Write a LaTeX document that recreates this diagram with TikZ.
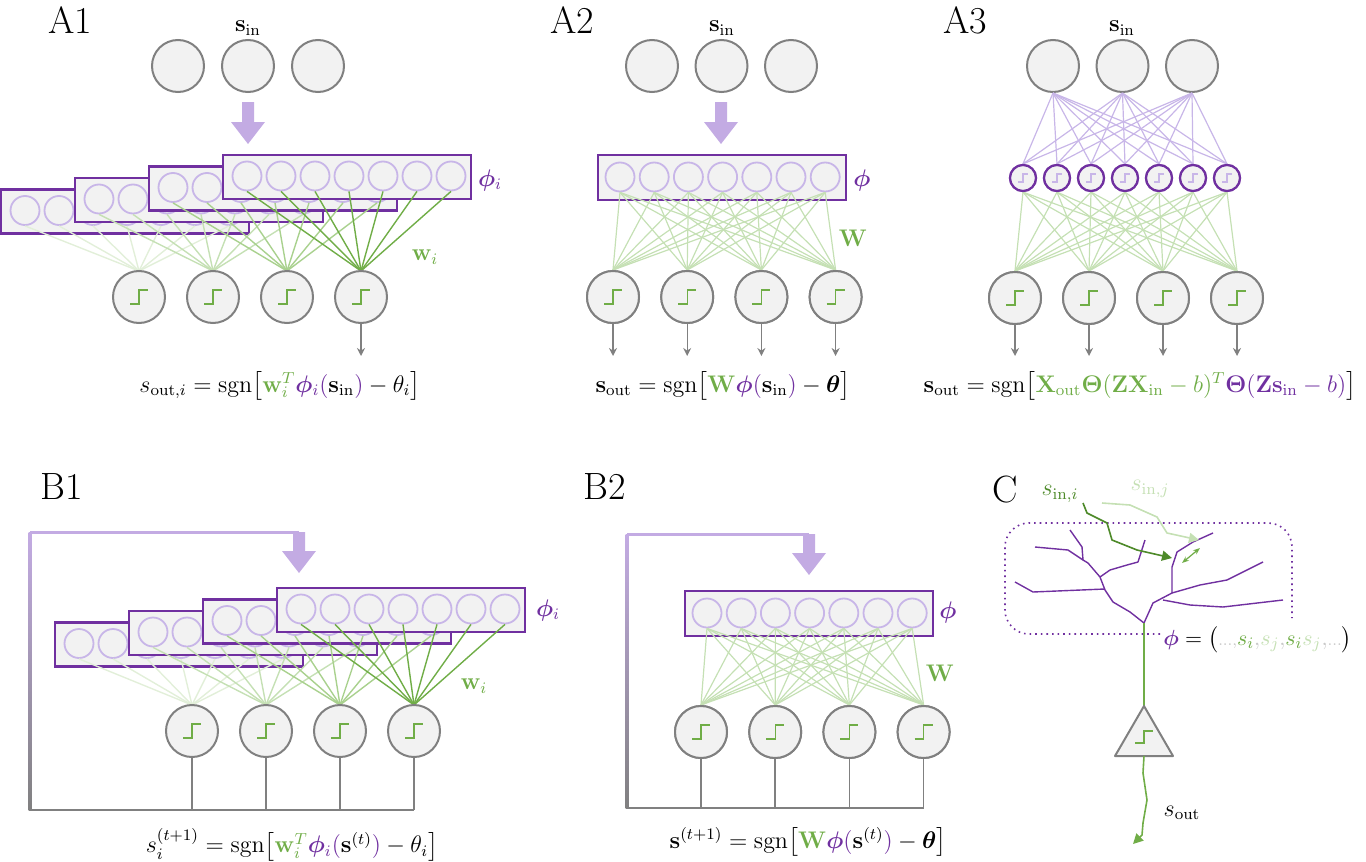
\documentclass[tikz,border=0pt]{standalone}
\usepackage{amsmath,bm}
\usetikzlibrary{arrows.meta}
\definecolor{grayc}{HTML}{808080}
\definecolor{fillc}{HTML}{F2F2F2}
\definecolor{purp}{HTML}{7030A0}
\definecolor{lav}{HTML}{C3ABE3}
\definecolor{lavc}{HTML}{C8B6E8}
\definecolor{grn}{HTML}{70AD47}
\definecolor{dgrn}{HTML}{4E8A2A}
\definecolor{gA}{HTML}{E2EFD9}
\definecolor{gB}{HTML}{C5E0B4}
\definecolor{gC}{HTML}{A9D18E}
\definecolor{gD}{HTML}{70AD47}
\definecolor{lgray}{HTML}{C8C8C8}
\tikzset{
  inn/.style={circle,draw=grayc,fill=fillc,line width=1pt,minimum size=26pt,inner sep=0},
  outn/.style={circle,draw=grayc,fill=fillc,line width=1pt,minimum size=26pt,inner sep=0},
  phic/.style={circle,draw=lavc,line width=0.9pt,minimum size=14.5pt,inner sep=0},
  hid/.style={circle,draw=purp,fill=fillc,line width=1.1pt,minimum size=13pt,inner sep=0},
  box/.style={draw=purp,fill=fillc,line width=1.1pt},
  step/.pic={\draw[grn,line width=0.7pt] (-4.5pt,-3.5pt)--(0,-3.5pt)--(0,3.5pt)--(4.5pt,3.5pt);},
  hstep/.pic={\draw[lavc,line width=0.6pt] (-2.5pt,-2pt)--(0,-2pt)--(0,2pt)--(2.5pt,2pt);},
  outarr/.style={-{Stealth[length=4pt,width=4pt]},grayc,line width=0.7pt},
  bus/.style={grayc,line width=0.8pt},
  lbl/.style={font=\fontsize{19}{19}\selectfont},
  eq/.style={font=\fontsize{12}{14}\selectfont},
  dend/.style={purp,line width=0.7pt,line join=round},
}
\newcommand\blockarr[3]{\fill[lav] (#1-6,#2)--(#1+6,#2)--(#1+6,#3-22)--(#1+17,#3-22)--(#1,#3)--(#1-17,#3-22)--(#1-6,#3-22)--cycle;}
\newcommand\stackpanel[5]{
  \foreach \k/\c in {3/gA,2/gB,1/gC,0/gD}{
    \pgfmathsetmacro\bx{#2-74*\k}\pgfmathsetmacro\by{#3+11.5*\k}
    \draw[box] (\bx,\by) rectangle ++(248,44);
    \foreach \j in {0,...,6}{\node[phic] (#1p\k\j) at (\bx+24+34*\j,\by+21) {};}
    \pgfmathsetmacro\nx{#4+74*(3-\k)}
    \coordinate (#1t\k) at (\nx,#5-26);
    \foreach \j in {0,...,6}{\draw[\c,line width=0.7pt] (#1p\k\j.south)--(#1t\k);}
  }
  \foreach \k in {0,...,3}{\node[outn] (#1n\k) at (#4+74*\k,#5) {}; \pic at (#1n\k) {step};}
}
\newcommand\flatpanel[5]{
  \draw[box] (#2,#3) rectangle ++(248,45);
  \foreach \j in {0,...,6}{\node[phic] (#1p\j) at (#2+22+34.2*\j,#3+22) {};}
  \foreach \k in {0,...,3}{\node[outn] (#1n\k) at (#4+74.2*\k,#5) {};}
  \foreach \j in {0,...,6}{\foreach \k in {0,...,3}{\draw[gB,line width=0.6pt] (#1p\j.south)--(#1n\k.north);}}
  \foreach \k in {0,...,3}{\node[outn] at (#1n\k) {}; \pic at (#1n\k) {step};}
}
\begin{document}
\begin{tikzpicture}[x=0.5pt,y=-0.5pt]
\useasboundingbox (0,0) rectangle (1366,862);
% ---------------- A1
\node[lbl] at (70,20) {A1};
\foreach \i in {0,1,2}{\node[inn] (a1i\i) at (178+70*\i,66) {};}
\node[eq] at (248,28) {$\mathbf{s}_{\mathrm{in}}$};
\blockarr{248}{102}{144}
\stackpanel{a1}{223}{155}{139}{297}
\node[eq,text=purp] at (490,180) {$\bm{\phi}_i$};
\node[eq,text=grn] at (425,257) {$\mathbf{w}_i$};
\coordinate (a1o) at (361,356);
\draw[outarr] (a1n3.south)--(a1o);
\node[eq] at (280,386) {$s_{\mathrm{out},i}=\mathrm{sgn}\big[\textcolor{grn}{\mathbf{w}_i^T}\textcolor{purp}{\bm\phi_i(}\mathbf{s}_{\mathrm{in}}\textcolor{purp}{)}-\theta_i\big]$};
% ---------------- A2
\node[lbl] at (572,20) {A2};
\foreach \i in {0,1,2}{\node[inn] (a2i\i) at (652+69.5*\i,66) {};}
\node[eq] at (722,28) {$\mathbf{s}_{\mathrm{in}}$};
\blockarr{721}{102}{144}
\flatpanel{a2}{598}{155}{613}{297}
\node[eq,text=purp] at (862,180) {$\bm{\phi}$};
\node[eq,text=grn] at (853,238) {$\mathbf{W}$};
\foreach \k in {0,...,3}{\coordinate (a2o\k) at (613+74.2*\k,356); \draw[outarr] (a2n\k.south)--(a2o\k);}
\node[eq] at (723,386) {$\mathbf{s}_{\mathrm{out}}=\mathrm{sgn}\big[\textcolor{grn}{\mathbf{W}}\textcolor{purp}{\bm\phi(}\mathbf{s}_{\mathrm{in}}\textcolor{purp}{)}-\bm\theta\big]$};
% ---------------- A3
\node[lbl] at (965,20) {A3};
\foreach \i in {0,1,2}{\node[inn] (a3i\i) at (1053+69.5*\i,66) {};}
\node[eq] at (1122,28) {$\mathbf{s}_{\mathrm{in}}$};
\foreach \j in {0,...,6}{\node[hid] (a3h\j) at (1023+34*\j,178) {};}
\foreach \k in {0,...,3}{\node[outn] (a3n\k) at (1015+74*\k,298) {};}
\foreach \i in {0,1,2}{\foreach \j in {0,...,6}{\draw[lavc,line width=0.6pt] (a3i\i.south)--(a3h\j.north);}}
\foreach \j in {0,...,6}{\foreach \k in {0,...,3}{\draw[gB,line width=0.6pt] (a3h\j.south)--(a3n\k.north);}}
\foreach \j in {0,...,6}{\node[hid] at (a3h\j) {}; \pic at (a3h\j) {hstep};}
\foreach \k in {0,...,3}{\node[outn] at (a3n\k) {}; \pic at (a3n\k) {step}; \coordinate (a3o\k) at (1015+74*\k,356); \draw[outarr] (a3n\k.south)--(a3o\k);}
\node[eq] at (1140,386) {$\mathbf{s}_{\mathrm{out}}=\mathrm{sgn}\big[\textcolor{grn}{\mathbf{X}_{\mathrm{out}}\bm\Theta(\mathbf{Z}\mathbf{X}_{\mathrm{in}}-b)^T}\textcolor{purp}{\bm\Theta(\mathbf{Z}\mathbf{s}_{\mathrm{in}}-b)}\big]$};
% ---------------- B1
\node[lbl] at (62,487) {B1};
\coordinate (b1c1) at (30,810);
\coordinate (b1c2) at (30,532);
\coordinate (b1c3) at (299,532);
\shade[top color=lav,bottom color=grayc] (28.5,532) rectangle (31.5,810);
\draw[lav,line width=1.5pt] (b1c2)--(b1c3);
\blockarr{299}{532}{573}
\stackpanel{b1}{277}{588}{192}{731}
\foreach \k in {0,...,3}{\coordinate (b1b\k) at (192+74*\k,810); \draw[bus] (b1n\k.south)--(b1b\k);}
\draw[bus] (b1c1)--(b1b3);
\node[eq,text=purp] at (548,610) {$\bm{\phi}_i$};
\node[eq,text=grn] at (474,686) {$\mathbf{w}_i$};
\node[eq] at (292,845) {$s_i^{(t+1)}=\mathrm{sgn}\big[\textcolor{grn}{\mathbf{w}_i^T}\textcolor{purp}{\bm\phi_i(}\mathbf{s}^{(t)}\textcolor{purp}{)}-\theta_i\big]$};
% ---------------- B2
\node[lbl] at (605,487) {B2};
\coordinate (b2c1) at (627,808);
\coordinate (b2c2) at (627,534);
\coordinate (b2c3) at (809,534);
\shade[top color=lav,bottom color=grayc] (625.5,534) rectangle (628.5,808);
\draw[lav,line width=1.5pt] (b2c2)--(b2c3);
\blockarr{809}{534}{575}
\flatpanel{b2}{685}{591}{701}{732}
\foreach \k in {0,...,3}{\coordinate (b2b\k) at (701+74.2*\k,808); \draw[bus] (b2n\k.south)--(b2b\k);}
\draw[bus] (b2c1)--(b2b3);
\node[eq,text=purp] at (948,612) {$\bm{\phi}$};
\node[eq,text=grn] at (940,673) {$\mathbf{W}$};
\node[eq] at (808,842) {$\mathbf{s}^{(t+1)}=\mathrm{sgn}\big[\textcolor{grn}{\mathbf{W}}\textcolor{purp}{\bm\phi(}\mathbf{s}^{(t)}\textcolor{purp}{)}-\bm\theta\big]$};
% ---------------- C
\node[lbl] at (1005,490) {C};
\draw[purp,line width=0.8pt,dotted,rounded corners=12] (1160,634)--(1005,634)--(1005,523)--(1292,523)--(1292,618);
\draw[dend] (1144,623)--(1130,612)--(1113,602)--(1105,590)--(1100,577)--(1088,563)--(1083,560)--(1068,550)--(1035,547);
\draw[dend] (1083,560)--(1082,547)--(1070,530);
\draw[dend] (1100,577)--(1110,570)--(1127,565)--(1138,562)--(1145,540);
\draw[dend] (1015,582)--(1033,592)--(1105,589);
\draw[dend] (1144,623)--(1153,603)--(1172,593)--(1200,585)--(1227,580)--(1263,562);
\draw[dend] (1163,600)--(1190,605)--(1223,607)--(1283,600);
\draw[dend] (1172,593)--(1172,567)--(1177,552)--(1193,542)--(1213,533);
\draw[dgrn,line width=0.8pt,line join=round,-{Triangle[length=5pt,width=5pt]}] (1083,503)--(1087,513)--(1107,523)--(1112,540)--(1137,550)--(1172,558);
\draw[gB,line width=0.8pt,line join=round,-{Triangle[length=5pt,width=5pt]}] (1102,503)--(1130,505)--(1157,517)--(1167,533)--(1199,540);
\draw[grn,line width=0.6pt,{Stealth[length=3.5pt]}-{Stealth[length=3.5pt]}] (1182,563)--(1200,548);
\node[eq,text=dgrn] at (1060,494) {$s_{\mathrm{in},i}$};
\node[eq,text=gB] at (1150,489) {$s_{\mathrm{in},j}$};
\coordinate (ctop) at (1144,623);
\coordinate (sapex) at (1144,706);
\draw[grn,line width=0.8pt] (ctop)--(sapex);
\draw[grayc,fill=fillc,line width=1pt,line join=round] (sapex)--(1173,756)--(1115,756)--cycle;
\draw[grn,line width=0.7pt] (1135,743)--(1144,743)--(1144,731)--(1153,731);
\coordinate (sbase) at (1144,756);
\coordinate (axend) at (1133,844);
\draw[grn,line width=0.8pt,-{Triangle[length=5pt,width=5pt]}] (sbase)--(1143,773)--(1147,800)--(1143,823)--(1142,835)--(axend);
\node[eq] at (1182,813) {$s_{\mathrm{out}}$};
\node[font=\fontsize{11}{13}\selectfont,anchor=west,inner sep=0] at (1163,640) {$\textcolor{purp}{\bm\phi}=\big(\textcolor{lgray}{\scriptstyle\ldots,}\textcolor{grn}{s_i}\textcolor{lgray}{,}\textcolor{gB}{s_j}\textcolor{lgray}{,}\textcolor{grn}{s_i}\textcolor{gB}{s_j}\textcolor{lgray}{,\scriptstyle\ldots}\big)$};
\end{tikzpicture}
\end{document}
